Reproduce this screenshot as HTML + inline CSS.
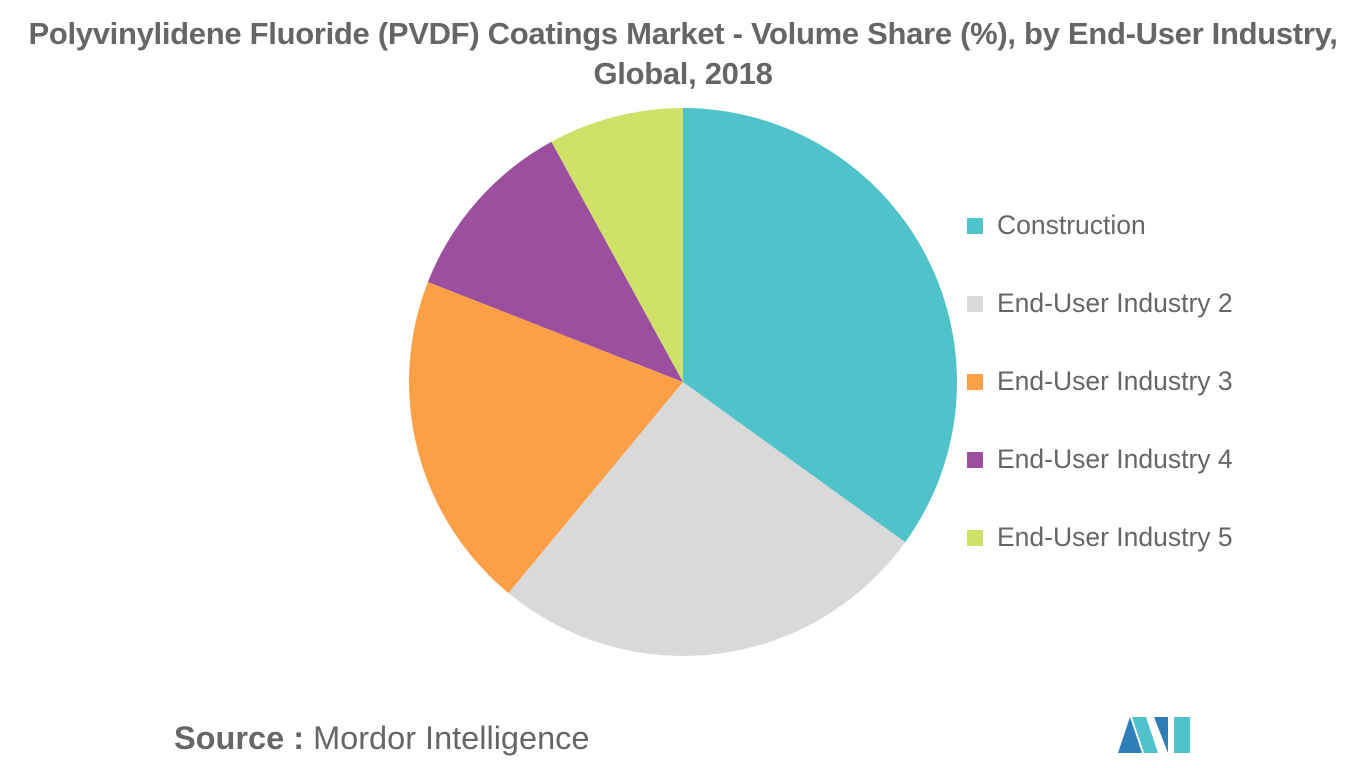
<!DOCTYPE html>
<html><head><meta charset="utf-8"><style>
body{margin:0;width:1366px;height:768px;background:#fff;overflow:hidden;font-family:"Liberation Sans",sans-serif;}
.t{position:absolute;left:0;width:1366px;text-align:center;color:#666;font-weight:bold;font-size:31px;line-height:40px;top:14px;letter-spacing:-0.3px;white-space:nowrap}
.lg{position:absolute;left:967px;font-size:26.5px;color:#666;}
.lg span{display:inline-block;width:16px;height:16px;margin-right:14px;vertical-align:0px}
</style></head><body>
<div class="t">Polyvinylidene Fluoride (PVDF) Coatings Market - Volume Share (%), by End-User Industry,<br>Global, 2018</div>
<svg width="1366" height="768" style="position:absolute;left:0;top:0">
<path d="M683,382 L683,108 A274,274 0 0 1 905.2,542.3 Z" fill="#4fc3c9"/>
<path d="M683,382 L905.2,542.3 A274,274 0 0 1 508.4,593.1 Z" fill="#d9d9d9"/>
<path d="M683,382 L508.4,593.1 A274,274 0 0 1 427.9,282 Z" fill="#fca048"/>
<path d="M683,382 L427.9,282 A274,274 0 0 1 551.4,141.7 Z" fill="#9c4f9f"/>
<path d="M683,382 L551.4,141.7 A274,274 0 0 1 683,108 Z" fill="#d0e16a"/>
<g transform="translate(1118,717)">
<polygon points="0,36 12,0 24,36" fill="#2e7fb8"/>
<polygon points="14,0 28,0 40,36 26,36" fill="#4fc3c9"/>
<polygon points="36,0 50,0 50,36" fill="#2e7fb8"/>
<polygon points="56,0 72,0 72,36 56,36" fill="#4fc3c9"/>
</g>
</svg>
<div class="lg" style="top:210px"><span style="background:#4fc3c9"></span>Construction</div>
<div class="lg" style="top:288px"><span style="background:#d9d9d9"></span>End-User Industry 2</div>
<div class="lg" style="top:366px"><span style="background:#fca048"></span>End-User Industry 3</div>
<div class="lg" style="top:444px"><span style="background:#9c4f9f"></span>End-User Industry 4</div>
<div class="lg" style="top:522px"><span style="background:#d0e16a"></span>End-User Industry 5</div>
<div style="position:absolute;left:174px;top:720px;font-size:32.5px;color:#666"><b>Source :</b> Mordor Intelligence</div>
</body></html>
